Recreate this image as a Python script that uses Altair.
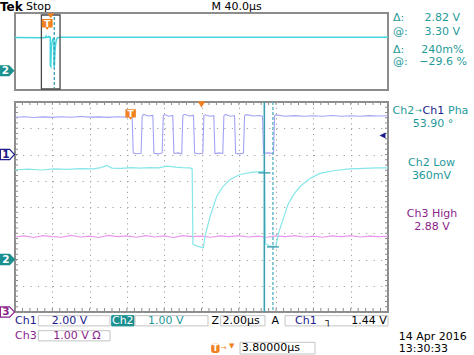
import altair as alt
import pandas as pd
import numpy as np

# ---------------- data (read from the screen) ----------------
# time in µs relative to the trigger, values in volts
ch1_t = [-6.2, -5.7, -5.2, -4.7, -4.2, -3.7, -3.2, -2.7, -2.2, -1.7, -1.2, -0.7, -0.3, 0.08,
         0.14, 0.35, 0.56,
         0.62, 0.70, 0.95, 1.19,
         1.25, 1.48, 1.69,
         1.75, 1.83, 2.05, 2.26,
         2.32, 2.55, 2.74,
         2.80, 2.88, 3.15, 3.37,
         3.43, 3.65, 3.87,
         3.93, 4.01, 4.25, 4.46,
         4.52, 4.75, 4.94,
         5.00, 5.08, 5.35, 5.57,
         5.63, 5.85, 6.05,
         6.11, 6.20, 6.60, 6.90, 7.07,
         7.13, 7.40, 7.66,
         7.72, 7.80, 8.30, 8.80, 9.30, 9.80, 10.30, 10.80, 11.30, 11.80, 12.30, 12.80, 13.30, 13.80]
ch1_v = [2.84, 2.88, 2.82, 2.87, 2.83, 2.88, 2.84, 2.90, 2.85, 2.87, 2.83, 2.88, 2.85, 2.90,
         0.12, 0.06, 0.10,
         2.94, 3.05, 2.93, 2.98,
         0.10, 0.05, 0.12,
         2.96, 3.04, 2.92, 2.97,
         0.08, 0.12, 0.06,
         2.95, 3.06, 2.93, 2.98,
         0.11, 0.06, 0.10,
         2.97, 3.03, 2.91, 2.96,
         0.07, 0.12, 0.08,
         2.94, 3.05, 2.92, 2.97,
         0.10, 0.05, 0.11,
         2.95, 3.04, 2.93, 2.97, 2.92,
         0.09, 0.12, 0.07,
         2.94, 3.02, 2.92, 2.96, 2.91, 2.95, 2.92, 2.97, 2.91, 2.95, 2.92, 2.96, 2.93, 2.95]

ch2_t = [-6.2, -5.5, -4.8, -4.1, -3.4, -2.7, -2.0, -1.6, -1.28, -1.0, -0.5, 0.0, 0.5, 1.0, 1.5,
         1.95, 2.4, 2.8, 3.2, 3.30, 3.34, 3.36, 3.61, 3.90, 3.99, 4.26, 4.62, 4.95, 5.33, 5.86,
         6.56, 7.10, 7.18, 7.22, 7.50, 7.75, 7.79, 7.96, 8.17, 8.44, 8.71, 9.08, 9.62, 10.15,
         10.96, 11.76, 12.5, 13.2, 13.8]
ch2_v = [3.42, 3.44, 3.41, 3.45, 3.43, 3.46, 3.45, 3.50, 3.58, 3.48, 3.47, 3.50, 3.48, 3.50, 3.49,
         3.56, 3.52, 3.50, 3.49, 3.45, 0.60, 0.57, 0.50, 0.45, 0.88, 1.64, 2.41, 2.78, 3.05, 3.24,
         3.33, 3.36, 3.30, 0.60, 0.50, 0.50, 0.53, 1.07, 1.52, 2.10, 2.44, 2.78, 3.09, 3.28,
         3.39, 3.45, 3.47, 3.49, 3.49]

ch3_t = [-6.2, -5.7, -5.2, -4.7, -4.2, -3.7, -3.2, -2.7, -2.2, -1.7, -1.2, -0.7, -0.2, 0.3, 0.8,
         1.3, 1.8, 2.3, 2.8, 3.3, 3.8, 4.3, 4.8, 5.3, 5.8, 6.3, 6.8, 7.3, 7.8, 8.3, 8.8, 9.3,
         9.8, 10.3, 10.8, 11.3, 11.8, 12.3, 12.8, 13.3, 13.8]
ch3_v = [2.86, 2.90, 2.84, 2.91, 2.87, 2.85, 2.92, 2.86, 2.89, 2.84, 2.92, 2.87, 2.90, 2.85, 2.91,
         2.86, 2.90, 2.84, 2.91, 2.87, 2.89, 2.85, 2.90, 2.87, 2.91, 2.86, 2.89, 2.85, 2.90, 2.87,
         2.91, 2.86, 2.89, 2.85, 2.90, 2.87, 2.91, 2.86, 2.89, 2.87, 2.88]

# overview (main time base) Ch2 ends
overview_end_t = [-34.5, 365.5]
overview_end_v = [3.46, 3.47]

ch_names = ["Ch1", "Ch2", "Ch3"]
ch_volts_per_div = [2.0, 1.0, 1.0]
ch_ground_div = [6, 2, 0]

time_window = [-6.2, 13.8]        # zoom 2.00 µs/div
overview_window = [-34.5, 365.5]  # main 40.0 µs/div
grid_time = [-6.2, -4.2, -2.2, -0.2, 1.8, 3.8, 5.8, 7.8, 9.8, 11.8, 13.8]
grid_div = [0, 1, 2, 3, 4, 5, 6, 7, 8]
cursor_t = [7.17, 7.63]
cursor_v = [3.30, 0.48]
trigger_t = 0.0
trigger_level = 1.44
zoom_center_t = 3.8

# ---------------- layout / style ----------------
W, H = 373, 210
OX, OY = 15, 102
FONT = "DejaVu Sans"
FS = 11
TEAL = "#1f9a9a"
TEAL_FILL = "#1a8f8f"
DBLUE = "#1c1c8a"
PURPLE = "#8a1f8a"
ORANGE = "#f08020"
CH1C = "#a3a3f5"
CH2C = "#86e6ea"
CH3C = "#e896ec"
CURSOR = "#3d9fb2"
GRID = "#a0a0a0"
FRAME = "#8c8c8c"


def to_div(values, ch):
    i = ch_names.index(ch)
    return [ch_ground_div[i] + v / ch_volts_per_div[i] for v in values]


tr1 = pd.DataFrame({"t": ch1_t, "y": to_div(ch1_v, "Ch1")})
tr2 = pd.DataFrame({"t": ch2_t, "y": to_div(ch2_v, "Ch2")})
tr3 = pd.DataFrame({"t": ch3_t, "y": to_div(ch3_v, "Ch3")})
ov = pd.DataFrame({"t": [overview_end_t[0]] + ch2_t + [overview_end_t[1]],
                   "v": [overview_end_v[0]] + ch2_v + [overview_end_v[1]]})

xs = alt.Scale(domain=time_window, nice=False, zero=False)
ys = alt.Scale(domain=[0, 8], nice=False, zero=False)
xo = alt.Scale(domain=overview_window, range=[0, W], nice=False, zero=False)
yo = alt.Scale(domain=[-2, 6], range=[90 - OY, 13 - OY], nice=False, zero=False)


def X(f="t", scale=xs):
    return alt.X(f, type="quantitative", scale=scale, axis=None)


def Y(f="y", scale=ys):
    return alt.Y(f, type="quantitative", scale=scale, axis=None)


def PX(x):
    return alt.value(x - OX)


def PY(y):
    return alt.value(y - OY)


def one():
    return pd.DataFrame({"a": [0]})


def txt(s, x, y, color="black", size=FS, weight="normal", align="left"):
    return alt.Chart(pd.DataFrame({"s": [s]})).mark_text(
        align=align, baseline="middle", fontSize=size, fontWeight=weight,
        color=color, font=FONT).encode(x=PX(x), y=PY(y), text="s:N")


def box(x1, y1, x2, y2, fill="white", stroke="#c4c4c4", sw=1.0, fop=1.0, radius=0):
    return alt.Chart(one()).mark_rect(
        fill=fill, fillOpacity=fop, stroke=stroke, strokeWidth=sw, cornerRadius=radius
    ).encode(x=PX(x1), x2=PX(x2), y=PY(y1), y2=PY(y2))


layers = []

# graticule (dotted grid)
layers.append(alt.Chart(tr3).mark_line(opacity=0).encode(
    x=alt.X("t:Q", scale=xs, axis=alt.Axis(values=grid_time, grid=True, gridDash=[1.2, 4.05],
                                           gridColor=GRID, gridWidth=1, labels=False, ticks=False,
                                           domain=False, title=None)),
    y=alt.Y("y:Q", scale=ys, axis=alt.Axis(values=grid_div, grid=True, gridDash=[1.2, 6.26],
                                           gridColor=GRID, gridWidth=1, labels=False, ticks=False,
                                           domain=False, title=None))))

# minor ticks on the frame edges
mt = pd.DataFrame({"t": np.round(np.arange(time_window[0], time_window[1] + 1e-6, 0.4), 3)})
md = pd.DataFrame({"y": np.round(np.arange(0, 8 + 1e-6, 0.2), 3)})
layers.append(alt.Chart(mt).mark_rule(color=FRAME, strokeWidth=1).encode(x=X(), y=alt.value(0), y2=alt.value(3)))
layers.append(alt.Chart(mt).mark_rule(color=FRAME, strokeWidth=1).encode(x=X(), y=alt.value(H - 4), y2=alt.value(H)))
layers.append(alt.Chart(md).mark_rule(color=FRAME, strokeWidth=1).encode(y=Y(), x=alt.value(0), x2=alt.value(3)))
layers.append(alt.Chart(md).mark_rule(color=FRAME, strokeWidth=1).encode(y=Y(), x=alt.value(W - 3), x2=alt.value(W)))

# traces
layers.append(alt.Chart(tr3).mark_line(color=CH3C, strokeWidth=1.1).encode(x=X(), y=Y()))
layers.append(alt.Chart(tr2).mark_line(color=CH2C, strokeWidth=1.2).encode(x=X(), y=Y()))
layers.append(alt.Chart(tr1).mark_line(color=CH1C, strokeWidth=1.1).encode(x=X(), y=Y()))

# cursors
layers.append(alt.Chart(pd.DataFrame({"t": [cursor_t[0]]})).mark_rule(color=CURSOR, strokeWidth=1.6).encode(x=X()))
layers.append(alt.Chart(pd.DataFrame({"t": [cursor_t[1]]})).mark_rule(color="#5db5c5", strokeWidth=1.4, strokeDash=[3, 2]).encode(x=X()))
cur_pts = pd.DataFrame({"t": cursor_t, "y": to_div(cursor_v, "Ch2")})
layers.append(alt.Chart(cur_pts).mark_point(shape="M-1,0L1,0", size=144, strokeWidth=1.4, color=CURSOR, opacity=1).encode(x=X(), y=Y()))

# trigger level arrow (Ch1)
layers.append(alt.Chart(pd.DataFrame({"y": to_div([trigger_level], "Ch1")})).mark_point(
    shape="M1,-1L-1,0L1,1Z", size=36, filled=True, color=DBLUE, opacity=1).encode(x=PX(382.5), y=Y()))

# top-of-graticule orange triangle and T marker
layers.append(alt.Chart(pd.DataFrame({"t": [zoom_center_t]})).mark_point(
    shape="M-1,-0.7L1,-0.7L0,0.9Z", size=64, filled=True, color=ORANGE, opacity=1).encode(x=X(), y=PY(104)))
TSHAPE = "M-1,-1L1,-1L1,0.55L0.3,0.55L0,1L-0.3,0.55L-1,0.55Z"
layers.append(alt.Chart(pd.DataFrame({"t": [trigger_t]})).mark_point(
    shape=TSHAPE, size=110, filled=True, color=ORANGE, opacity=1).encode(x=X(), y=PY(114.5)))
layers.append(alt.Chart(pd.DataFrame({"t": [trigger_t], "s": ["T"]})).mark_text(
    fontSize=9, fontWeight="bold", color="white", font=FONT, baseline="middle").encode(x=X(), y=PY(113.5), text="s:N"))

# channel ground markers
FLAG = "M-1,-0.72L0.3,-0.72L1,0L0.3,0.72L-1,0.72Z"


def ch_marker(label, ydf_val, fill, stroke, tcolor, yscale=ys, x=7.5, size=200):
    df = pd.DataFrame({"y": [ydf_val], "s": [label]})
    p = alt.Chart(df).mark_point(shape=FLAG, size=size, filled=True, fill=fill, stroke=stroke,
                                 strokeWidth=1.1, opacity=1).encode(x=PX(x), y=Y(scale=yscale))
    t = alt.Chart(df).mark_text(fontSize=10.5, fontWeight="bold", color=tcolor, font=FONT,
                                baseline="middle").encode(x=PX(x - 1.5), y=Y(scale=yscale), text="s:N")
    return [p, t]


layers += ch_marker("1", ch_ground_div[0], "white", DBLUE, DBLUE)
layers += ch_marker("2", ch_ground_div[1], TEAL_FILL, TEAL_FILL, "white")
layers += ch_marker("3", ch_ground_div[2], "white", PURPLE, PURPLE)

# ---------------- overview window ----------------
layers.append(box(15, 13, 388, 90, fill="white", stroke=FRAME, sw=2, fop=0))
layers.append(alt.Chart(ov).mark_line(color="#45d5de", strokeWidth=1.5).encode(
    x=X(scale=xo), y=Y("v", scale=yo)))
layers.append(alt.Chart(pd.DataFrame({"t0": [time_window[0]], "t1": [time_window[1]]})).mark_rect(
    fillOpacity=0, stroke="#4a4a4a", strokeWidth=1.3).encode(
    x=alt.X("t0:Q", scale=xo, axis=None), x2="t1:Q", y=PY(15), y2=PY(89)))
layers.append(alt.Chart(pd.DataFrame({"t": [cursor_t[1]]})).mark_rule(
    color=CURSOR, strokeWidth=1.3, strokeDash=[3, 2]).encode(x=X(scale=xo), y=PY(17), y2=PY(88)))
layers.append(alt.Chart(pd.DataFrame({"t": [zoom_center_t]})).mark_point(
    shape="M-1,-0.7L1,-0.7L0,0.9Z", size=42, filled=True, color=ORANGE, opacity=1).encode(x=X(scale=xo), y=PY(15.5)))
layers.append(alt.Chart(pd.DataFrame({"t": [trigger_t]})).mark_point(
    shape=TSHAPE, size=120, filled=True, color=ORANGE, opacity=1).encode(x=X(scale=xo), y=PY(24.5)))
layers.append(alt.Chart(pd.DataFrame({"t": [trigger_t], "s": ["T"]})).mark_text(
    fontSize=9.5, fontWeight="bold", color="white", font=FONT, baseline="middle").encode(x=X(scale=xo), y=PY(23.5), text="s:N"))
layers += ch_marker("2", 0, TEAL_FILL, TEAL_FILL, "white", yscale=yo, x=7, size=180)

# ---------------- header text ----------------
layers.append(txt("Tek", 0, 7, size=12, weight="bold"))
layers.append(txt("Stop", 26, 7, size=11))
layers.append(txt("M 40.0µs", 211.5, 7, size=11))

# cursor readouts
layers.append(txt("Δ:", 393, 18, TEAL))
layers.append(txt("@:", 393, 31.5, TEAL))
layers.append(txt("2.82 V", 460, 18, TEAL, align="right"))
layers.append(txt("3.30 V", 460, 31.5, TEAL, align="right"))
layers.append(txt("Δ:", 393, 49.5, TEAL))
layers.append(txt("@:", 393, 62, TEAL))
layers.append(txt("240m%", 463.5, 49.5, TEAL, align="right"))
layers.append(txt("−29.6 %", 467, 62, TEAL, align="right"))

# measurement panel
layers.append(txt("Ch2", 392.5, 111, TEAL))
layers.append(txt("→", 418.5, 111, TEAL, size=8, align="center"))
layers.append(txt("Ch1", 422.5, 111, DBLUE))
layers.append(txt("Pha", 448, 111, TEAL))
layers.append(txt("53.90 °", 433, 124, TEAL, align="center"))
layers.append(txt("Ch2 Low", 431.5, 163, TEAL, align="center"))
layers.append(txt("360mV", 431.5, 176, TEAL, align="center"))
layers.append(txt("Ch3 High", 432, 213.5, PURPLE, align="center"))
layers.append(txt("2.88 V", 432, 227, PURPLE, align="center"))

# ---------------- status bar ----------------
layers.append(txt("Ch1", 15, 320.7, DBLUE))
layers.append(box(38.3, 315.7, 110, 325.9))
layers.append(txt("2.00 V", 51.7, 320.7, DBLUE))
layers.append(box(111.7, 315.7, 134, 325.9, fill=TEAL_FILL, stroke=TEAL_FILL))
layers.append(txt("Ch2", 122.8, 320.7, "white", align="center"))
layers.append(box(135, 315.7, 208, 325.9))
layers.append(txt("1.00 V", 148, 320.7, TEAL))
layers.append(txt("Z", 211.5, 320.7))
layers.append(box(220.7, 315.7, 265, 325.9))
layers.append(txt("2.00µs", 222.5, 320.7))
layers.append(txt("A", 271.5, 320.7))
layers.append(box(285, 315.7, 388, 325.9))
layers.append(txt("Ch1", 295, 320.7, DBLUE))
layers.append(txt("┐", 328, 320.7, "black", size=10, align="center"))
layers.append(txt("1.44 V", 386.7, 320.7, align="right"))

layers.append(txt("Ch3", 15, 335.7, PURPLE))
layers.append(box(38.3, 330.7, 110, 340.9))
layers.append(txt("1.00 V Ω", 53.3, 335.7, PURPLE))

layers.append(box(211.7, 344.3, 219, 352.5, fill=ORANGE, stroke=ORANGE, radius=1.5))
layers.append(txt("T", 215.35, 348.4, "white", size=8.5, weight="bold", align="center"))
layers.append(txt("→", 223.7, 348.2, ORANGE, size=7, align="center"))
layers.append(txt("▼", 231.7, 346.3, ORANGE, size=7, align="center"))
layers.append(box(240, 342.3, 315, 354))
layers.append(txt("3.80000µs", 241.7, 348.2))

layers.append(txt("14 Apr 2016", 398.7, 336.5))
layers.append(txt("13:30:33", 398.7, 348.5))

chart = alt.layer(*layers).resolve_scale(x="independent", y="independent").properties(
    width=W, height=H,
    padding={"left": OX, "top": OY, "right": 474 - OX - W, "bottom": 355 - OY - H},
    autosize=alt.AutoSizeParams(type="none"),
    background="white",
).configure_view(stroke=FRAME, strokeWidth=2)

chart.save("out.html", embed_options={"renderer": "svg", "actions": False})
